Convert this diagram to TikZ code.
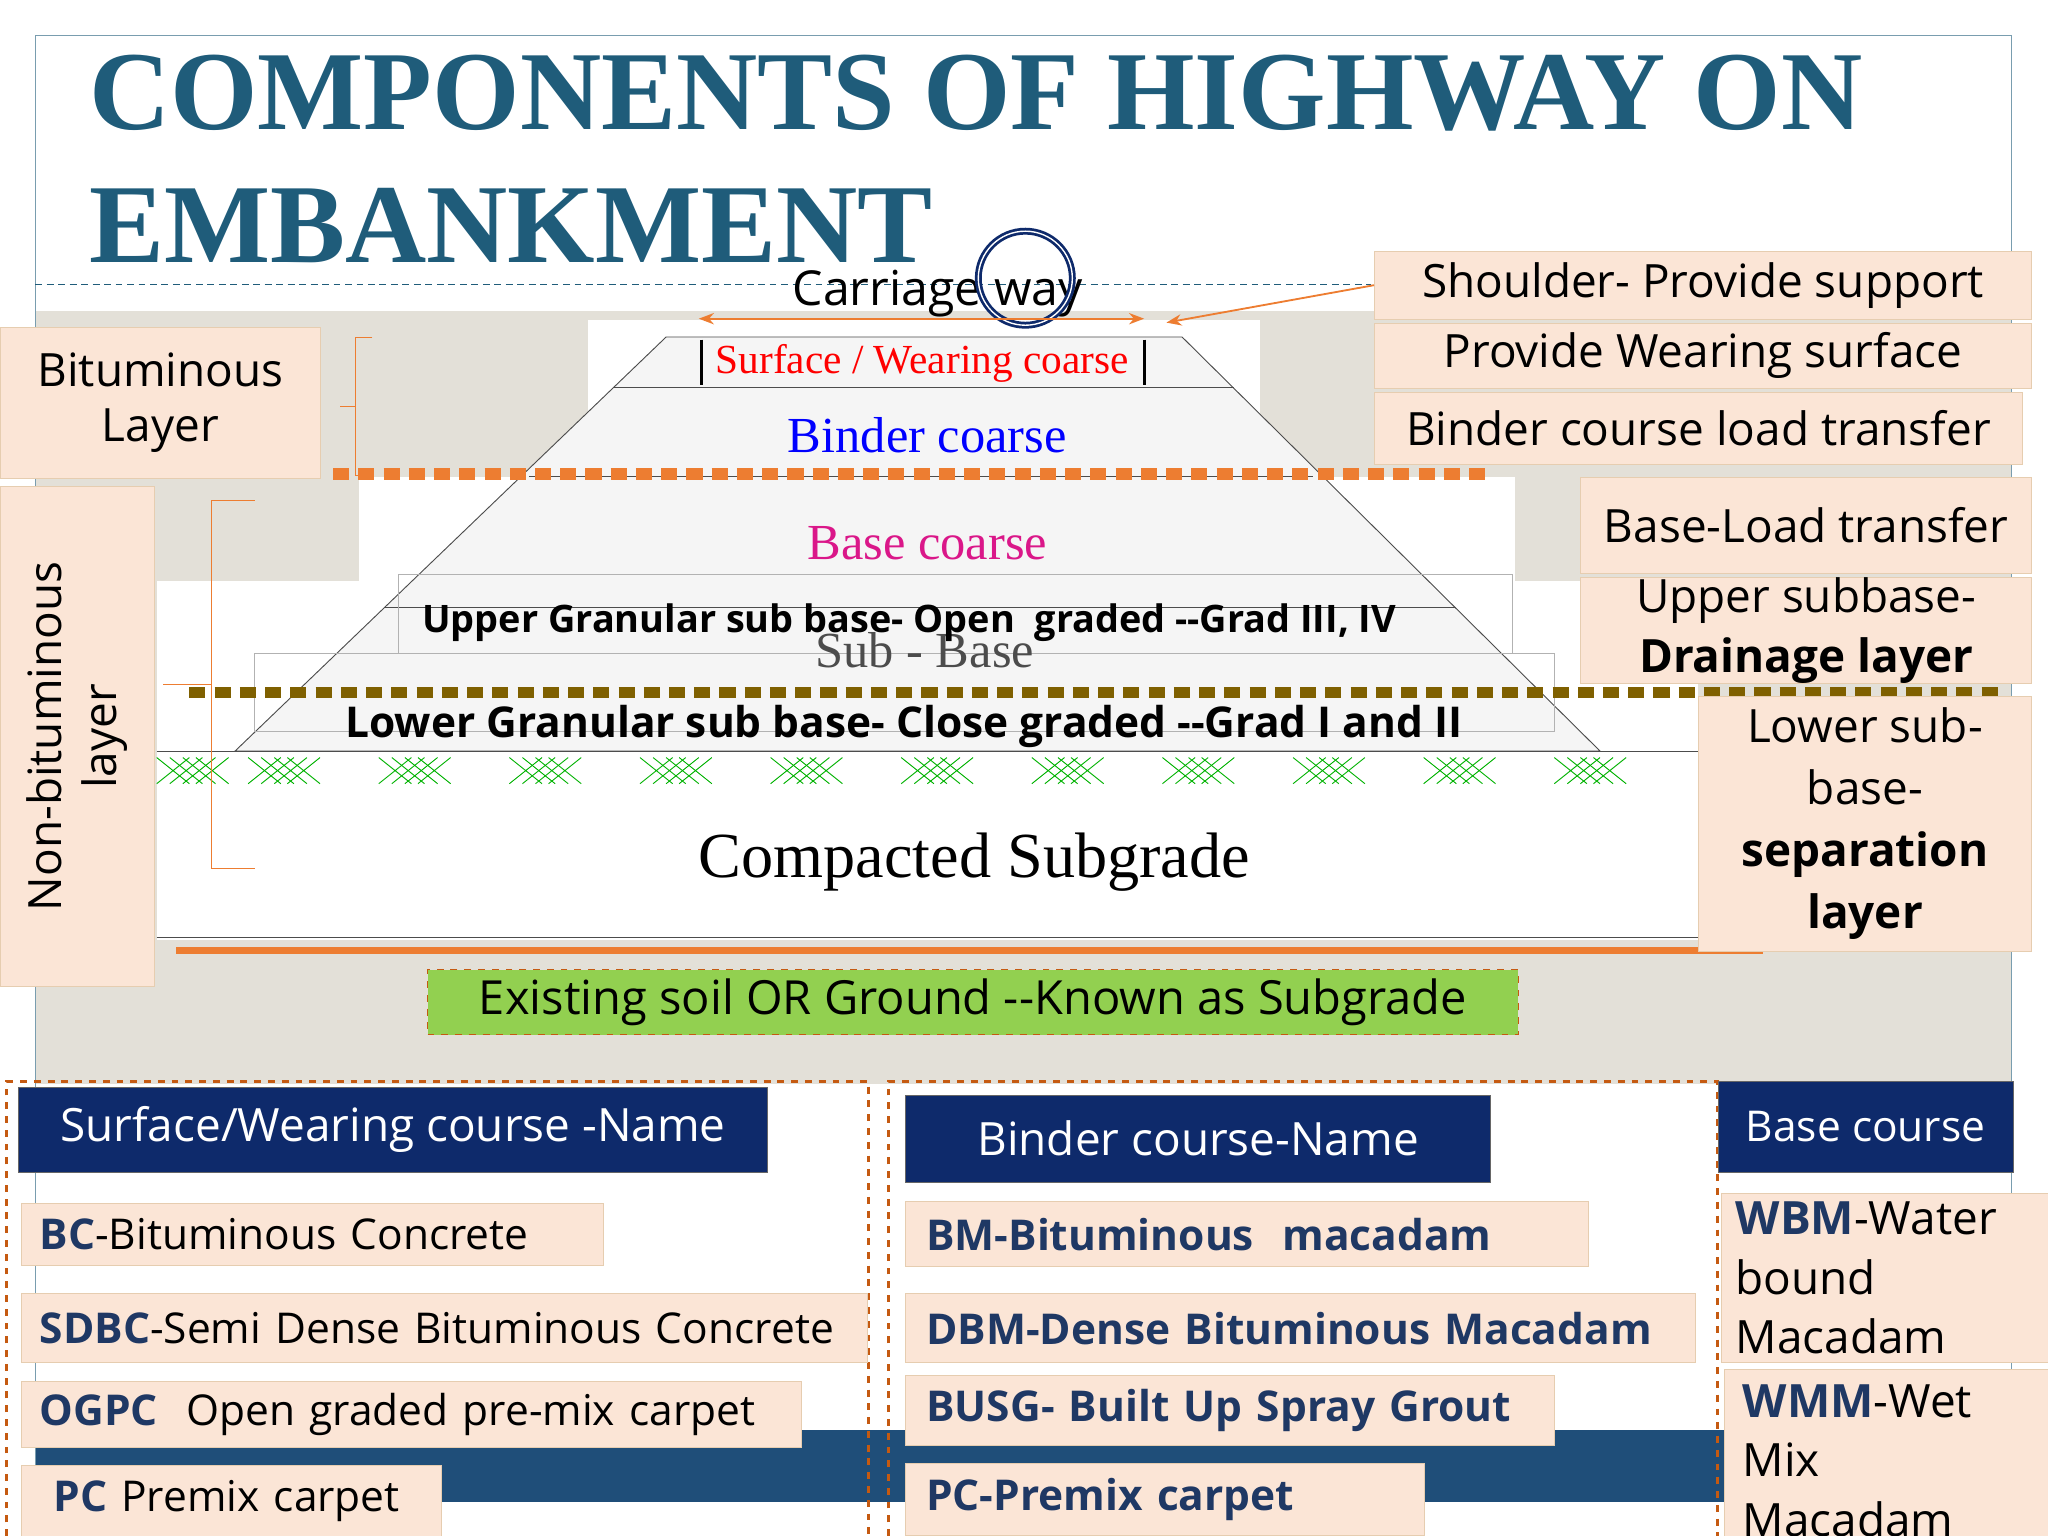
\documentclass[tikz,border=0pt]{standalone}
\usepackage{fontspec}
\setmainfont{Liberation Serif}
\newfontfamily\sansf{Open Sans}
\usetikzlibrary{positioning,calc,arrows.meta}
\definecolor{titleblue}{HTML}{1F5C7A}
\definecolor{beige}{HTML}{FBE5D6}
\definecolor{beigeline}{HTML}{E6CDB0}
\definecolor{navy}{HTML}{0E2A6B}
\definecolor{abbr}{HTML}{1F3864}
\definecolor{backg}{HTML}{E3E0D8}
\definecolor{strip}{HTML}{1F4E79}
\definecolor{orng}{HTML}{ED7D31}
\definecolor{brwn}{HTML}{C55A11}
\definecolor{brwn2}{HTML}{7F6000}
\definecolor{grass}{HTML}{92D050}
\newcommand\px[1]{#1*0.02cm}
\tikzset{note/.style={draw=beigeline,fill=beige,font=\sansf\fontsize{20}{24}\selectfont,align=center,inner sep=0pt,anchor=north west},
 item/.style={draw=beigeline,fill=beige,font=\sansf\fontsize{18.5}{22}\selectfont,anchor=west,align=left,inner sep=0pt},
 head/.style={draw=black!60,fill=navy,text=white,font=\sansf\fontsize{20}{24}\selectfont,inner sep=0pt,anchor=north west},
 layer/.style={font=\fontsize{22}{24}\selectfont},
 group/.style={draw=brwn,dashed,very thick}}
\begin{document}
\begin{tikzpicture}[x=0.02cm,y=-0.02cm]
\useasboundingbox (0,0) rectangle (1568,1176);
% background
\fill[backg] (27,238) rectangle (1540,830);
\fill[strip] (27,1095) rectangle (1540,1150);
\draw[titleblue!60,thin] (27,1176) -- (27,27) -- (1540,27) -- (1540,1176);
\draw[titleblue,densely dashed,thin] (27,218) -- (1050,218);
\node[anchor=west,text=titleblue,font=\bfseries\fontsize{49}{58}\selectfont,align=left] (title) at (62,122) {COMPONENTS OF HIGHWAY ON\\EMBANKMENT};
% embankment
\fill[white] (450,245) rectangle (965,365);
\fill[white] (275,365) rectangle (1160,445);
\fill[white] (120,445) rectangle (1300,720);
\fill[black!4] (510,258) -- (905,258) -- (1225,575) -- (180,575) -- cycle;
\draw[black!70] (510,258) -- (905,258) -- (1225,575) -- (180,575) -- cycle;
\draw[black!70] (470,297) -- (945,297) (405,365) -- (1005,365) (295,465) -- (1115,465);
\draw[black!70] (120,575) -- (1300,575) (120,718) -- (1300,718);
\draw[black!30] (305,440) rectangle (1158,500) (195,500) rectangle (1190,560);
\draw[orng,line width=3pt] (135,728) -- (1350,728);
\foreach \gx in {120,190,290,390,490,590,690,790,890,990,1090,1190}
 \foreach \dx in {0,10,20,30}
  \draw[green!70!black] (\gx+\dx,580) -- (\gx+\dx+25,600) (\gx+\dx+25,580) -- (\gx+\dx,600);
\draw[very thick] (537,260) -- (537,295) (876,260) -- (876,295);
\node[layer,text=red,font=\fontsize{18}{20}\selectfont] (wear) at (706,278) {Surface / Wearing coarse};
\node[layer,text=blue] (bind) at (710,333) {Binder coarse};
\node[layer,text=magenta!80!violet] (base) at (710,416) {Base coarse};
\node[layer,text=black!70] (sub) at (708,498) {Sub - Base};
\node[font=\sansf\bfseries\fontsize{16.5}{20}\selectfont] (ugsb) at (696,477) {Upper Granular sub base- Open\ \ graded --Grad III, IV};
\node[font=\sansf\bfseries\fontsize{18.5}{22}\selectfont] (lgsb) at (692,556) {Lower Granular sub base- Close graded --Grad I and II};
\node[font=\fontsize{28}{32}\selectfont] (subg) at (746,660) {Compacted Subgrade};
% dotted divisions
\draw[orng,line width=5pt,dash pattern=on 7pt off 4pt] (255,363) -- (1140,363);
\draw[brwn2,line width=5pt,dash pattern=on 7pt off 4pt] (145,530) -- (1530,530);
% carriage way
\node[font=\sansf\fontsize{21}{25}\selectfont] (cw) at (718,225) {Carriage way};
\draw[navy,double,very thick] (785,213) circle (36);
\coordinate (cwl) at (535,244);
\coordinate (cwr) at (876,244);
\draw[orng,thick,{Stealth}-{Stealth}] (cwl) -- (cwr);
% left labels
\node[note,minimum width=\px{245},minimum height=\px{116}] (bit) at (0,250) {Bituminous\\Layer};
\node[note,minimum width=\px{118},minimum height=\px{383}] (nonbit) at (0,372) {};
\node[rotate=90,font=\sansf\fontsize{20}{24}\selectfont,align=center] (nbtext) at (nonbit.center) {Non-bituminous\\layer};
\draw[orng] (285,258) -- (272,258) -- (272,311) -- (260,311) (272,311) -- (272,364) -- (285,364);
\draw[orng] (195,383) -- (162,383) -- (162,524) -- (125,524) (162,524) -- (162,665) -- (195,665);
% right notes
\node[note,minimum width=\px{503},minimum height=\px{52}] (shld) at (1052,192) {Shoulder- Provide support};
\node[note,minimum width=\px{503},minimum height=\px{50}] (pws) at (1052,247) {Provide Wearing surface};
\node[note,minimum width=\px{496},minimum height=\px{55}] (bclt) at (1052,300) {Binder course load transfer};
\node[note,minimum width=\px{345},minimum height=\px{74}] (blt) at (1210,365) {Base-Load transfer};
\node[note,minimum width=\px{345},minimum height=\px{80}] (usb) at (1210,442) {Upper subbase-\\[2pt]\textbf{Drainage layer}};
\node[note,minimum width=\px{255},minimum height=\px{195},font=\sansf\fontsize{20}{27}\selectfont] (lsb) at (1300,533) {Lower sub-\\base-\\\textbf{separation}\\\textbf{layer}};
\coordinate (shtip) at (893,247);
\draw[orng,thick,-{Stealth}] (shld.west) -- (shtip);
\node[draw=brwn,dashed,fill=grass,minimum width=\px{835},minimum height=\px{50},anchor=north west,inner sep=0pt,font=\sansf\fontsize{20.5}{24}\selectfont] (exist) at (327,742) {Existing soil OR Ground --Known as Subgrade};
% bottom groups
\draw[group] (5,1176) -- (5,828) -- (665,828) -- (665,1176);
\draw[group] (680,1176) -- (680,828) -- (1315,828) -- (1315,1176);
\node[head,minimum width=\px{573},minimum height=\px{65}] (swh) at (14,832) {Surface/Wearing course -Name};
\node[head,minimum width=\px{448},minimum height=\px{67}] (bch) at (693,838) {Binder course-Name};
\node[head,minimum width=\px{226},minimum height=\px{69},font=\sansf\fontsize{18.5}{22}\selectfont] (bah) at (1315,828) {Base course};
\node[item,text width=\px{446},minimum height=\px{47}] (bc) at (16,945) {\hspace{8pt}\textcolor{abbr}{\textbf{BC}}-Bituminous Concrete};
\node[item,text width=\px{648},minimum height=\px{53}] (sdbc) at (16,1017) {\hspace{8pt}\textcolor{abbr}{\textbf{SDBC}}-Semi Dense Bituminous Concrete};
\node[item,text width=\px{597},minimum height=\px{51}] (ogpc) at (16,1083) {\hspace{8pt}\textcolor{abbr}{\textbf{OGPC}}\ \ Open graded pre-mix carpet};
\node[item,text width=\px{322},minimum height=\px{54}] (pc) at (16,1149) {\hspace{14pt}\textcolor{abbr}{\textbf{PC}} Premix carpet};
\node[item,text width=\px{523},minimum height=\px{50},text=abbr,font=\sansf\bfseries\fontsize{18.5}{22}\selectfont] (bm) at (693,945) {\hspace{9pt}BM-Bituminous\ \ macadam};
\node[item,text width=\px{605},minimum height=\px{53},text=abbr,font=\sansf\bfseries\fontsize{18.5}{22}\selectfont] (dbm) at (693,1017) {\hspace{9pt}DBM-Dense Bituminous Macadam};
\node[item,text width=\px{497},minimum height=\px{54},text=abbr,font=\sansf\bfseries\fontsize{18.5}{22}\selectfont] (busg) at (693,1080) {\hspace{9pt}BUSG- Built Up Spray Grout};
\node[item,text width=\px{397},minimum height=\px{55},text=abbr,font=\sansf\bfseries\fontsize{18.5}{22}\selectfont] (pcb) at (693,1148) {\hspace{9pt}PC-Premix carpet};
\node[note,text width=\px{250},minimum height=\px{130},align=left,font=\sansf\fontsize{20}{26}\selectfont] (wbm) at (1318,913) {\hspace{6pt}\textcolor{abbr}{\textbf{WBM}}-Water\\\hspace{6pt}bound\\\hspace{6pt}Macadam};
\node[note,text width=\px{248},minimum height=\px{140},align=left,font=\sansf\fontsize{20}{26}\selectfont] (wmm) at (1320,1048) {\hspace{8pt}\textcolor{abbr}{\textbf{WMM}}-Wet\\\hspace{8pt}Mix\\\hspace{8pt}Macadam};
\end{tikzpicture}
\end{document}
